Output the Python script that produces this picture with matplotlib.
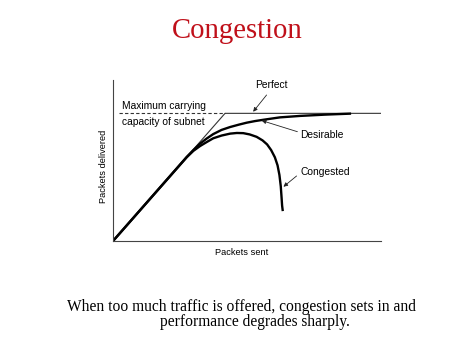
import matplotlib
matplotlib.use('Agg')
import matplotlib.pyplot as plt

# Curves (x = packets sent, y = packets delivered, both 0..1)
capacity = 0.793
perfect_x = [0.0, 0.418, 1.0]
perfect_y = [0.0, 0.793, 0.793]

desirable_x = [0.0, 0.275, 0.300, 0.325, 0.350, 0.374, 0.405, 0.437, 0.470, 0.499, 0.530,
               0.561, 0.623, 0.698, 0.791, 0.884]
desirable_y = [0.0, 0.522, 0.565, 0.605, 0.637, 0.664, 0.690, 0.708, 0.723, 0.735, 0.745,
               0.753, 0.768, 0.777, 0.785, 0.791]

congested_x = [0.0, 0.275, 0.300, 0.325, 0.350, 0.374, 0.405, 0.437, 0.462, 0.486, 0.510,
               0.536, 0.558, 0.575, 0.590, 0.604, 0.614, 0.621, 0.626, 0.629, 0.631, 0.633]
congested_y = [0.0, 0.520, 0.560, 0.590, 0.615, 0.638, 0.655, 0.667, 0.671, 0.670, 0.662,
               0.647, 0.625, 0.600, 0.565, 0.520, 0.470, 0.410, 0.340, 0.270, 0.220, 0.193]

title = 'Congestion'
caption1 = 'When too much traffic is offered, congestion sets in and'
caption2 = 'performance degrades sharply.'

sans = ['Liberation Sans', 'DejaVu Sans']
serif = ['Liberation Serif', 'DejaVu Serif']

fig = plt.figure(figsize=(4.74, 3.55), dpi=100)
ax = fig.add_axes([0.2384, 0.3211, 0.5654, 0.4535])

ax.plot(perfect_x, perfect_y, color='#333333', lw=0.8)
ax.plot([0.024, 0.418], [capacity, capacity], color='#333333', lw=0.8, ls=(0, (3, 2)))
ax.plot(desirable_x, desirable_y, color='black', lw=1.7, solid_joinstyle='round')
ax.plot(congested_x, congested_y, color='black', lw=1.7, solid_joinstyle='round')

ax.set_xlim(0, 1)
ax.set_ylim(0, 1)
for s in ['top', 'right']:
    ax.spines[s].set_visible(False)
for s in ['left', 'bottom']:
    ax.spines[s].set_color('#444444')
    ax.spines[s].set_linewidth(0.8)
ax.set_xticks([])
ax.set_yticks([])

fs = 7.4
fs_axis = 6.7
arrow = dict(arrowstyle='-|>', color='#222222', lw=0.6, mutation_scale=6, shrinkA=0, shrinkB=0)
ax.text(0.592, 0.969, 'Perfect', family=sans, fontsize=fs, ha='center', va='center')
ax.annotate('', xy=(0.523, 0.803), xytext=(0.573, 0.907), arrowprops=arrow)
ax.text(0.032, 0.839, 'Maximum carrying', family=sans, fontsize=fs, ha='left', va='center')
ax.text(0.032, 0.737, 'capacity of subnet', family=sans, fontsize=fs, ha='left', va='center')
ax.text(0.698, 0.658, 'Desirable', family=sans, fontsize=fs, ha='left', va='center')
ax.annotate('', xy=(0.555, 0.748), xytext=(0.688, 0.679), arrowprops=arrow)
ax.text(0.698, 0.430, 'Congested', family=sans, fontsize=fs, ha='left', va='center')
ax.annotate('', xy=(0.636, 0.337), xytext=(0.685, 0.404), arrowprops=arrow)

ax.text(0.480, -0.073, 'Packets sent', family=sans, fontsize=fs_axis, ha='center', va='center')
ax.text(-0.034, 0.461, 'Packets delivered', family=sans, fontsize=fs_axis, ha='center',
        va='center', rotation=90)

fig.text(237 / 474, 1 - 31 / 355, title, family=serif, fontsize=20.7, color='#c0101a',
         ha='center', va='center')
fig.text(66.7 / 474, 1 - 306.7 / 355, caption1, family=serif, fontsize=11.2,
         ha='left', va='center')
fig.text(160 / 474, 1 - 321.7 / 355, caption2, family=serif, fontsize=11.2,
         ha='left', va='center')

fig.savefig('out.png', dpi=100)
